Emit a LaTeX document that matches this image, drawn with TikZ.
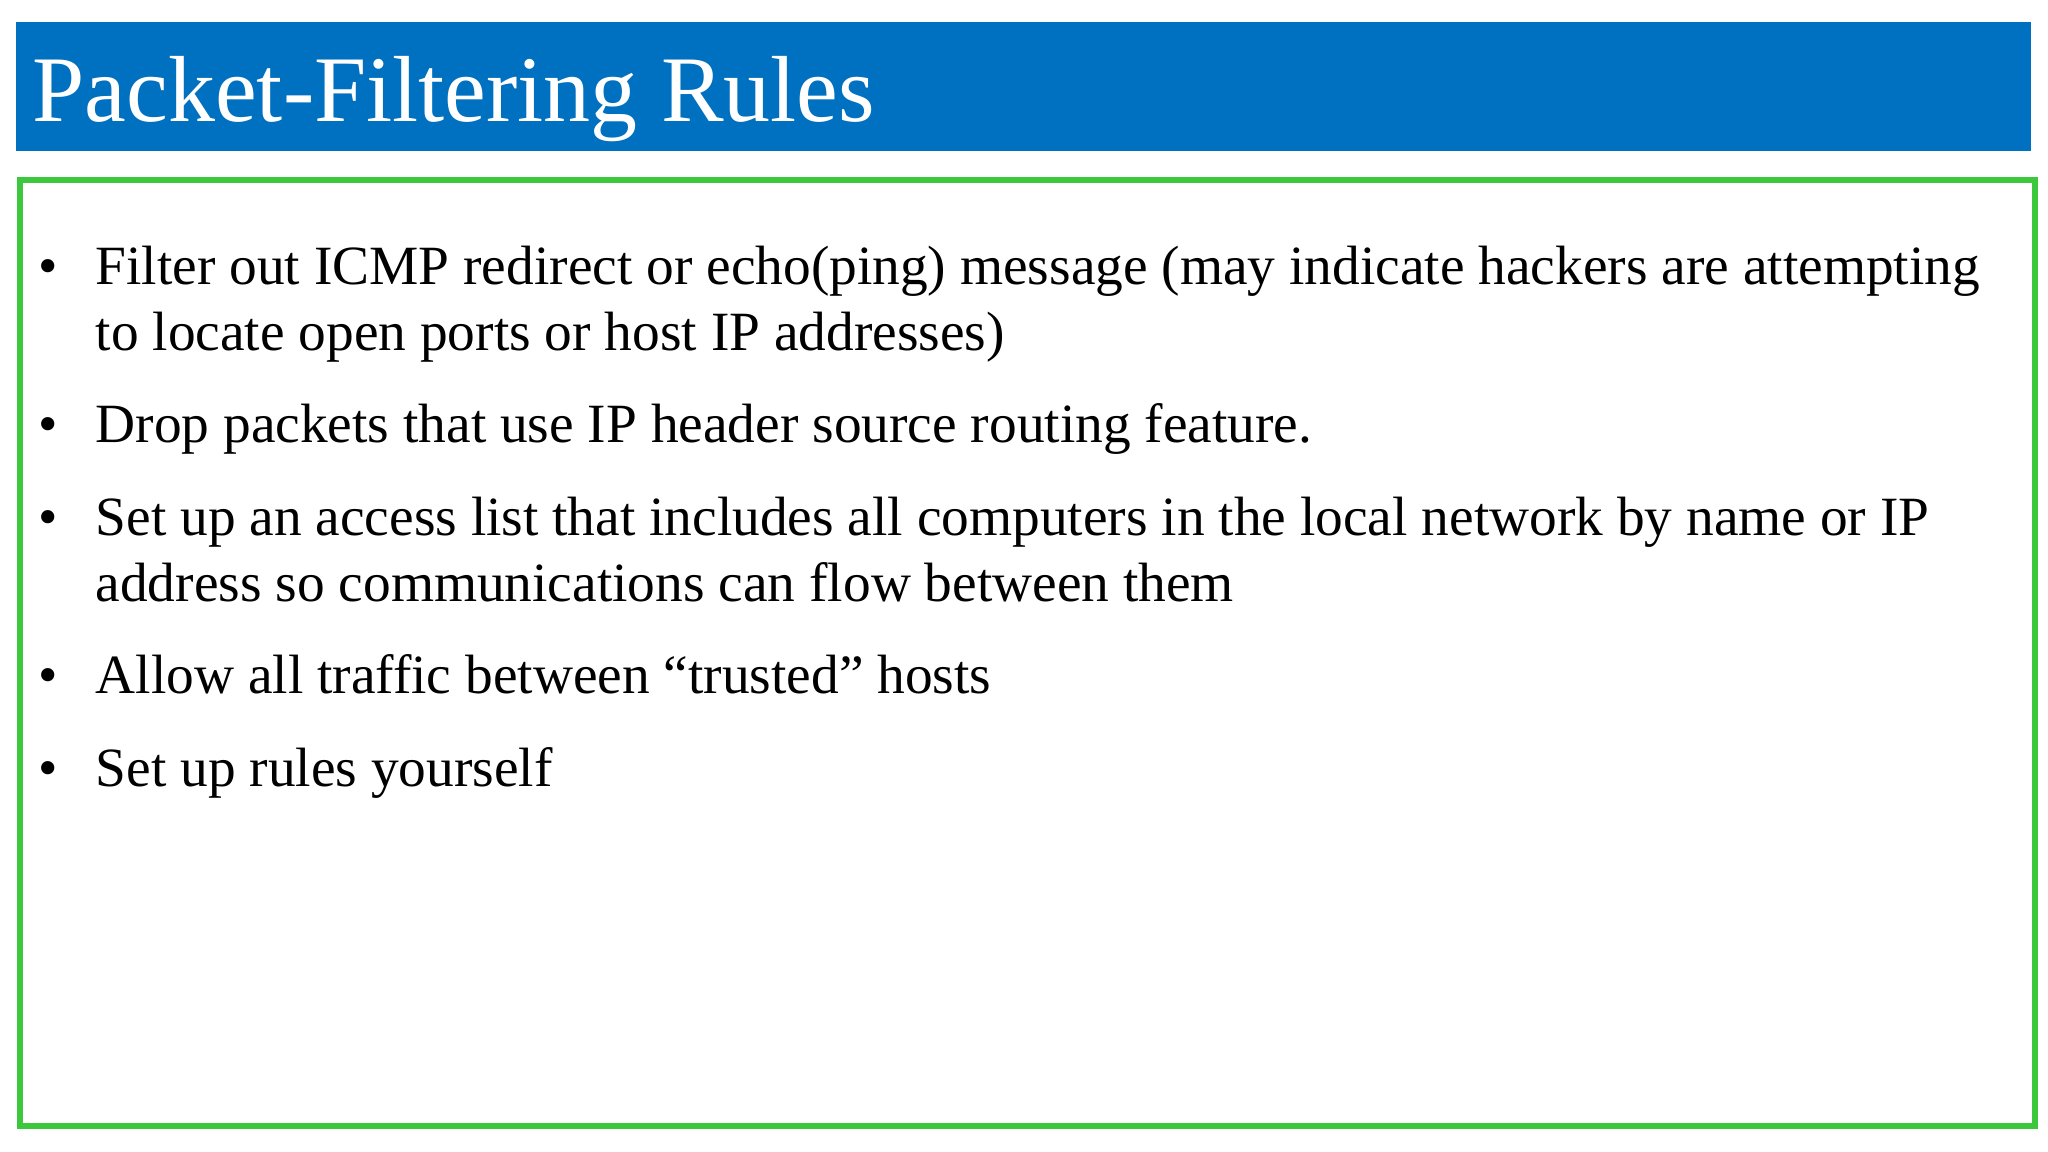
\documentclass[tikz,border=0pt]{standalone}
\usepackage{fontspec}
\setmainfont{Liberation Serif}
\begin{document}
\begin{tikzpicture}[x=0.01cm,y=-0.01cm]
	\useasboundingbox (0,0) rectangle (2048,1152);
	\tikzset{line/.style={anchor=base west,inner sep=0pt,font=\fontsize{15.75}{18}\selectfont},
		dot/.style={anchor=base west,inner sep=0pt,font=\fontsize{15.75}{18}\selectfont}}

	% title bar
	\fill[color={rgb,255:red,0;green,112;blue,192}] (16,22) rectangle (2031,151);
	\node[anchor=base west,inner sep=0pt,text=white,font=\fontsize{26.7}{30}\selectfont] (title) at (32,122) {Packet-Filtering Rules};

	% content box
	\draw[line width=1.6pt,color={rgb,255:red,60;green,200;blue,60}] (20,180) rectangle (2035,1126);

	\node[dot] (b1) at (38,285) {\textbullet};
	\node[line] (l1) at (95,285) {Filter out ICMP redirect or echo(ping) message (may indicate hackers are attempting};
	\node[line] (l1b) at (95,351) {to locate open ports or host IP addresses)};
	\node[dot] (b2) at (38,443) {\textbullet};
	\node[line] (l2) at (95,443) {Drop packets that use IP header source routing feature.};
	\node[dot] (b3) at (38,536) {\textbullet};
	\node[line] (l3) at (95,536) {Set up an access list that includes all computers in the local network by name or IP};
	\node[line] (l3b) at (95,601) {address so communications can flow between them};
	\node[dot] (b4) at (38,693) {\textbullet};
	\node[line] (l4) at (95,693) {Allow all traffic between “trusted” hosts};
	\node[dot] (b5) at (38,786) {\textbullet};
	\node[line] (l5) at (95,786) {Set up rules yourself};
\end{tikzpicture}
\end{document}
